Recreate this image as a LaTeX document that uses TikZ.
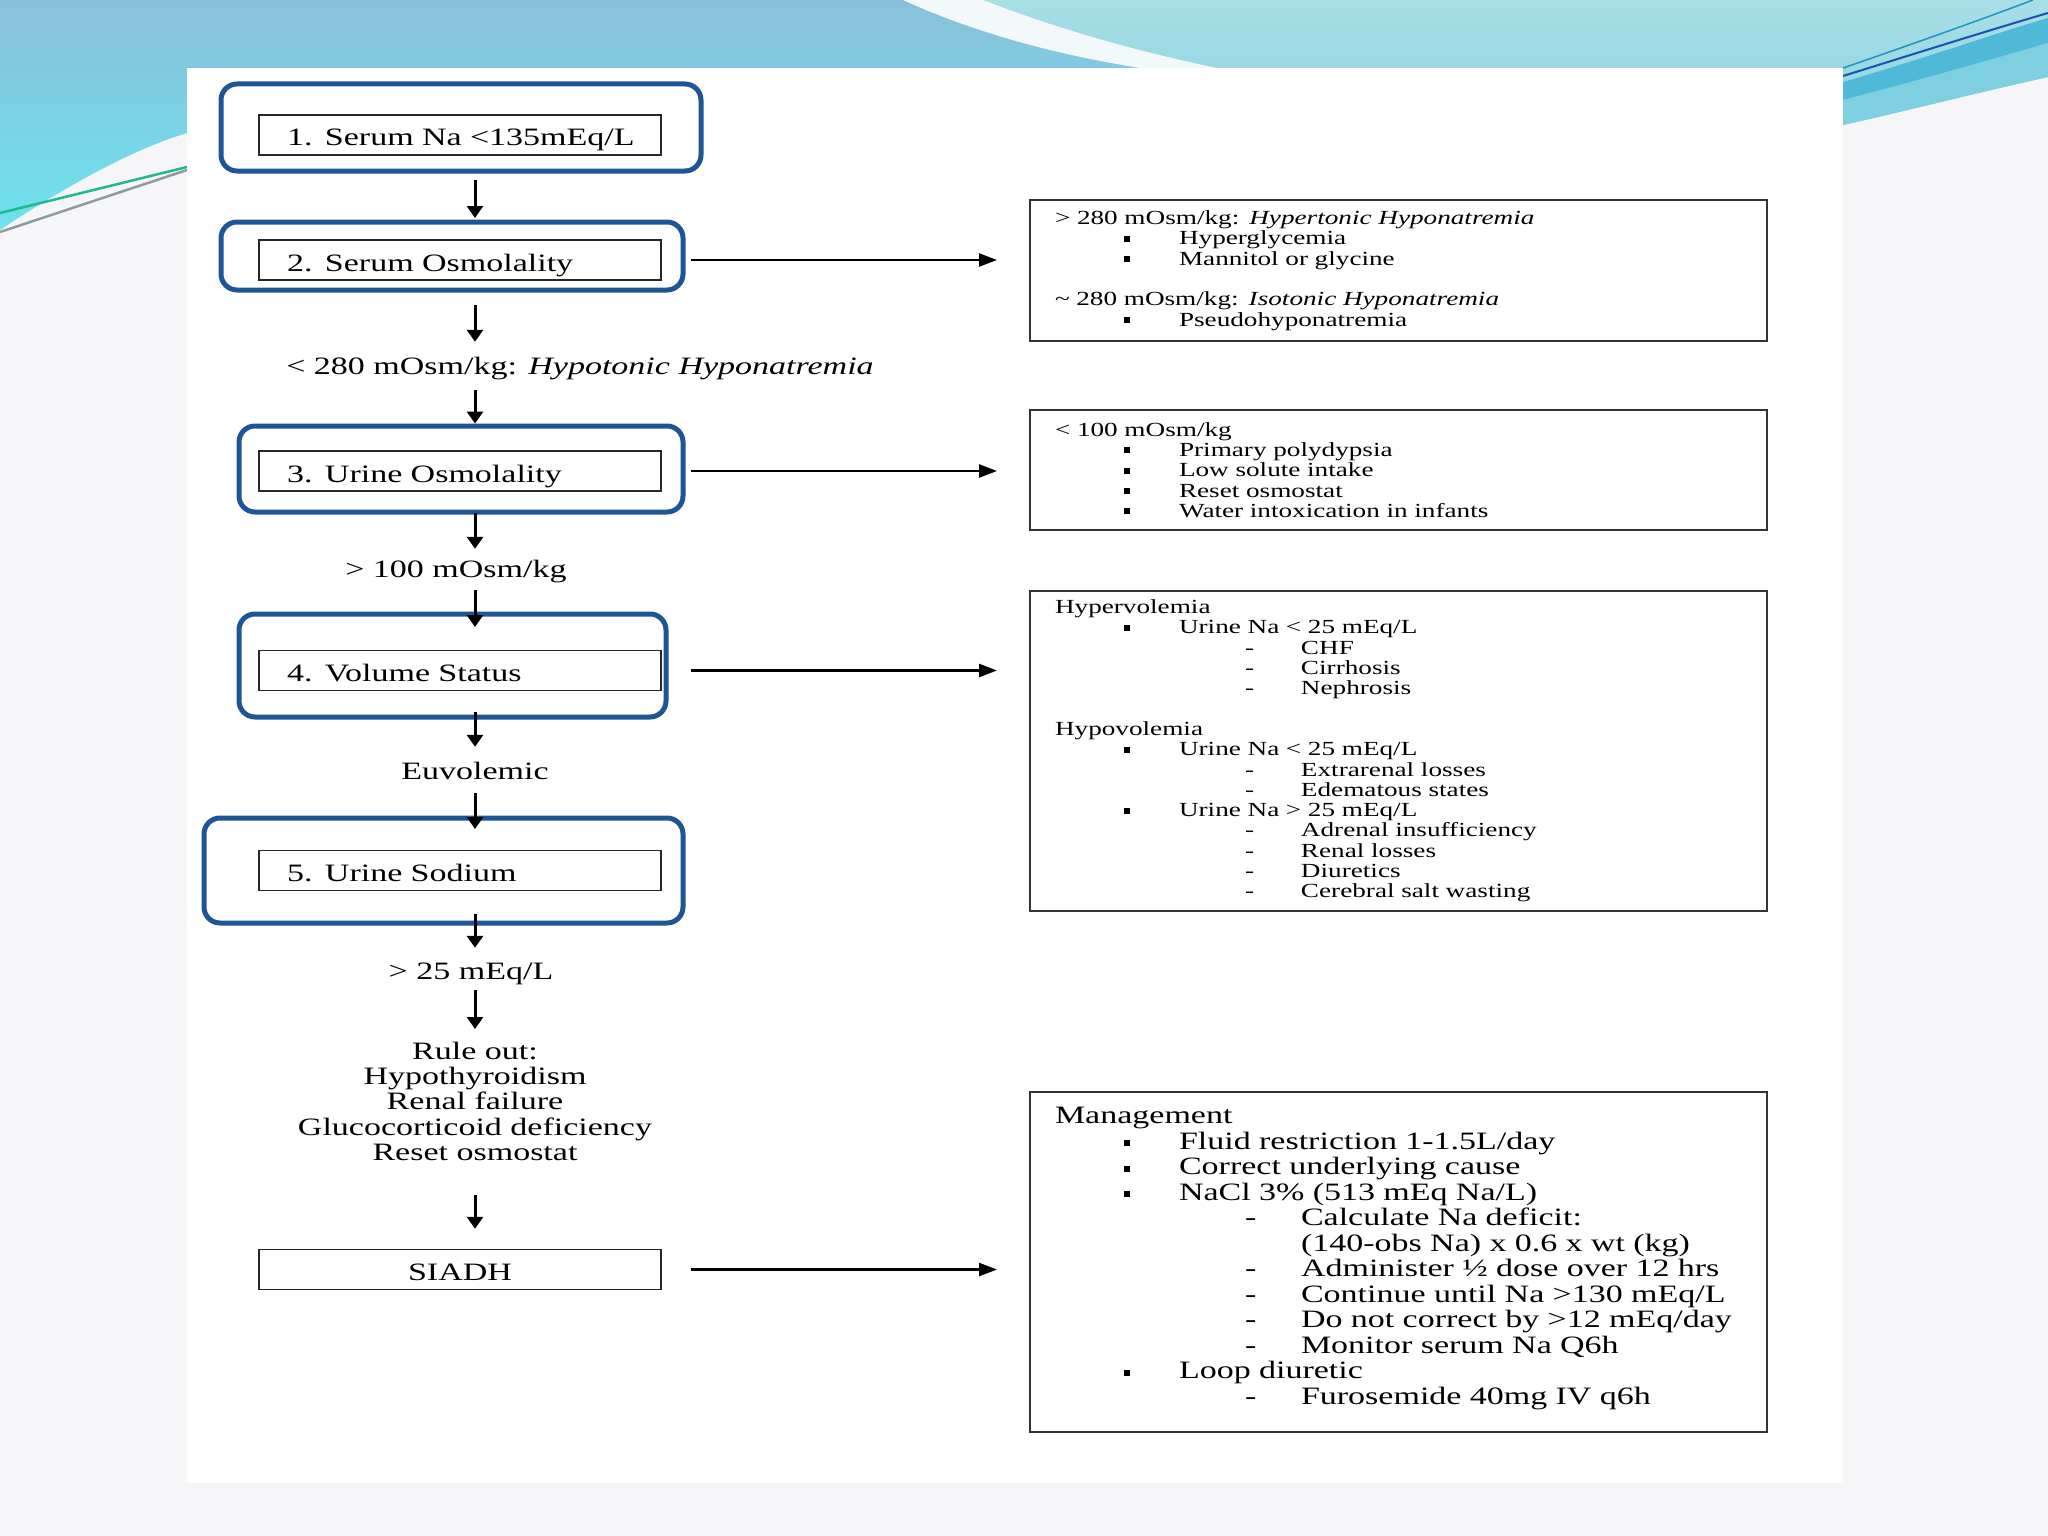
\documentclass[tikz,border=0pt]{standalone}
\usepackage{fontspec}
\setmainfont[FakeStretch=1.36]{Liberation Serif}
\usetikzlibrary{arrows.meta,positioning}
\definecolor{frameblue}{RGB}{30,85,150}
\definecolor{pagegray}{RGB}{246,246,248}
\definecolor{skyblue}{RGB}{138,192,218}
\definecolor{skycyan}{RGB}{109,226,238}
\definecolor{palecyan}{RGB}{168,222,230}
\definecolor{palecyanlow}{RGB}{150,216,227}
\definecolor{swooshmid}{RGB}{80,184,217}
\definecolor{swooshlight}{RGB}{126,208,225}
\definecolor{swooshteal}{RGB}{30,150,190}
\definecolor{swooshblue}{RGB}{20,85,175}
\definecolor{leafgreen}{RGB}{30,185,140}
\definecolor{leafgray}{RGB}{140,155,160}
\newcommand\flowsize{\fontsize{25}{25.2}\selectfont}
\newcommand\listsize{\fontsize{20}{20.3}\selectfont}
\newcommand\mgmtsize{\fontsize{25}{25.5}\selectfont}
\newcommand\blt[1]{\hspace*{69pt}\rlap{\rule[3pt]{6pt}{6pt}}\hspace*{55pt}#1}
\newcommand\dsh[1]{\hspace*{190pt}\rlap{-}\hspace*{56pt}#1}
\newcommand\cont[1]{\hspace*{246pt}#1}
\tikzset{
  stepbox/.style={draw=black!85, line width=1.5pt, minimum height=40pt,
    text width=346pt, inner xsep=28pt, text height=22pt, text depth=0pt,
    align=left, font=\flowsize},
  stepframe/.style={draw=frameblue, line width=5pt, rounded corners=16pt},
  cond/.style={font=\flowsize, inner xsep=0pt, inner ysep=13pt,
    text height=17pt, text depth=6pt, anchor=base},
  listbox/.style={draw=black!80, line width=2pt, anchor=north west,
    text width=687pt, inner xsep=25pt, align=left},
  flow/.style={-{Triangle[width=16pt,length=12pt]}, line width=3pt},
  sideflow/.style={-{Triangle[width=13pt,length=18pt]}, line width=2.4pt,
    shorten <=29pt, shorten >=32pt},
}

\begin{document}
\begin{tikzpicture}[x=1pt,y=-1pt]
  \useasboundingbox (0,0) rectangle (2048,1536);
  % slide background
  \fill[pagegray] (0,0) rectangle (2048,1536);
  \shade[top color=skyblue, bottom color=skycyan]
    (0,0) -- (2048,0) -- (2048,77) .. controls (1980,92) and (1910,110) .. (1843,125)
    -- (187,133) .. controls (130,150) and (60,190) .. (0,230) -- cycle;
  \shade[top color=palecyan, bottom color=palecyanlow]
    (983,0) .. controls (1060,30) and (1140,52) .. (1217,68) -- (1843,68) -- (1843,82)
    .. controls (1920,60) and (1990,35) .. (2048,18) -- (2048,0) -- cycle;
  \fill[white, opacity=0.9]
    (903,0) .. controls (980,35) and (1060,55) .. (1140,68) -- (1217,68)
    .. controls (1140,52) and (1060,30) .. (983,0) -- cycle;
  \fill[swooshmid] (1843,82) .. controls (1920,60) and (1990,35) .. (2048,18) -- (2048,43)
    .. controls (1990,60) and (1920,80) .. (1843,100) -- cycle;
  \fill[swooshlight] (1843,100) .. controls (1920,80) and (1990,60) .. (2048,43) -- (2048,77)
    .. controls (1980,92) and (1910,110) .. (1843,125) -- cycle;
  \draw[swooshteal, line width=1.5pt] (1843,68) .. controls (1910,45) and (1980,20) .. (2033,0);
  \draw[swooshblue, line width=2pt] (1843,76) .. controls (1920,52) and (1990,30) .. (2048,13);
  \draw[leafgreen, line width=2.5pt] (0,213) -- (187,167);
  \draw[leafgray, line width=2.5pt] (0,232) -- (187,170);
  \fill[white] (187,68) rectangle (1843,1483);

  % left column
  \coordinate (spine) at (475,0);
  \node[stepframe, minimum width=480pt, minimum height=87pt] (f1) at (461,127.5) {};
  \node[stepframe, minimum width=462pt, minimum height=68pt] (f2) at (452,256) {};
  \node[stepframe, minimum width=444pt, minimum height=86pt] (f3) at (461,469) {};
  \node[stepframe, minimum width=427pt, minimum height=103pt] (f4) at (452.5,665.5) {};
  \node[stepframe, minimum width=479pt, minimum height=105pt] (f5) at (443.5,870.5) {};

  \node[stepbox] (s1) at (460,135) {\mbox{1. Serum Na <135mEq/L}};
  \node[stepbox] (s2) at (460,260) {2. Serum Osmolality};
  \node[stepbox] (s3) at (460,471) {3. Urine Osmolality};
  \node[stepbox] (s4) at (460,670.5) {4. Volume Status};
  \node[stepbox] (s5) at (460,870.5) {5. Urine Sodium};
  \node[stepbox, align=center] (siadh) at (460,1269.5) {SIADH};

  \node[cond] (hypo) at (580,374) {< 280 mOsm/kg: \textit{Hypotonic Hyponatremia}};
  \node[cond] (osm100) at (456,577) {> 100 mOsm/kg};
  \node[cond] (euvo) at (475,779) {Euvolemic};
  \node[cond] (na25) at (471,979) {> 25 mEq/L};
  \node[font=\flowsize, align=center, inner sep=0pt, anchor=north] (ruleout) at (475,1042)
    {Rule out:\\Hypothyroidism\\Renal failure\\Glucocorticoid deficiency\\Reset osmostat};

  \draw[flow, shorten <=6.5pt, shorten >=1.5pt] (f1.south -| spine) -- (f2.north -| spine);
  \draw[flow, shorten <=12.5pt, shorten >=2pt] (f2.south -| spine) -- (hypo.north -| spine);
  \draw[flow, shorten <=-3pt] (hypo.south -| spine) -- (f3.north -| spine);
  \draw[flow, shorten <=-1.5pt, shorten >=-2pt] (f3.south -| spine) -- (osm100.north -| spine);
  \draw[flow, shorten <=-6pt, shorten >=-15.5pt] (osm100.south -| spine) -- (f4.north -| spine);
  \draw[flow, shorten <=-7.5pt, shorten >=2pt] (f4.south -| spine) -- (euvo.north -| spine);
  \draw[flow, shorten <=-5pt, shorten >=-13.5pt] (euvo.south -| spine) -- (f5.north -| spine);
  \draw[flow, shorten <=-11.5pt, shorten >=1pt] (f5.south -| spine) -- (na25.north -| spine);
  \draw[flow, shorten <=-8pt, shorten >=13pt] (na25.south -| spine) -- (ruleout.north -| spine);
  \draw[flow, shorten <=34pt, shorten >=20pt] (ruleout.south -| spine) -- (siadh.north -| spine);

  % right column
  \node[listbox, minimum height=141pt, font=\listsize] (r1) at (1029,199) {%
    > 280 mOsm/kg: \textit{Hypertonic Hyponatremia}\\
    \blt{Hyperglycemia}\\
    \blt{Mannitol or glycine}\\[20.3pt]
    \textasciitilde{} 280 mOsm/kg: \textit{Isotonic Hyponatremia}\\
    \blt{Pseudohyponatremia}};
  \node[listbox, minimum height=120pt, font=\listsize] (r2) at (1029,409) {%
    < 100 mOsm/kg\\
    \blt{Primary polydypsia}\\
    \blt{Low solute intake}\\
    \blt{Reset osmostat}\\
    \blt{Water intoxication in infants}};
  \node[listbox, minimum height=320pt, font=\listsize] (r3) at (1029,590) {%
    Hypervolemia\\
    \blt{Urine Na < 25 mEq/L}\\
    \dsh{CHF}\\
    \dsh{Cirrhosis}\\
    \dsh{Nephrosis}\\[20.3pt]
    Hypovolemia\\
    \blt{Urine Na < 25 mEq/L}\\
    \dsh{Extrarenal losses}\\
    \dsh{Edematous states}\\
    \blt{Urine Na > 25 mEq/L}\\
    \dsh{Adrenal insufficiency}\\
    \dsh{Renal losses}\\
    \dsh{Diuretics}\\
    \dsh{Cerebral salt wasting}};
  \node[listbox, minimum height=340pt, font=\mgmtsize] (r4) at (1029,1091) {%
    Management\\
    \blt{Fluid restriction 1-1.5L/day}\\
    \blt{Correct underlying cause}\\
    \blt{NaCl 3\% (513 mEq Na/L)}\\
    \dsh{Calculate Na deficit:}\\
    \cont{(140-obs Na) x 0.6 x wt (kg)}\\
    \dsh{Administer ½ dose over 12 hrs}\\
    \dsh{Continue until Na >130 mEq/L}\\
    \dsh{Do not correct by >12 mEq/day}\\
    \dsh{Monitor serum Na Q6h}\\
    \blt{Loop diuretic}\\
    \dsh{Furosemide 40mg IV q6h}\\[-13pt]\mbox{}};

  \draw[sideflow] (s2.east) -- (r1.west |- s2.east);
  \draw[sideflow] (s3.east) -- (r2.west |- s3.east);
  \draw[sideflow] (s4.east) -- (r3.west |- s4.east);
  \draw[sideflow] (siadh.east) -- (r4.west |- siadh.east);
\end{tikzpicture}
\end{document}
